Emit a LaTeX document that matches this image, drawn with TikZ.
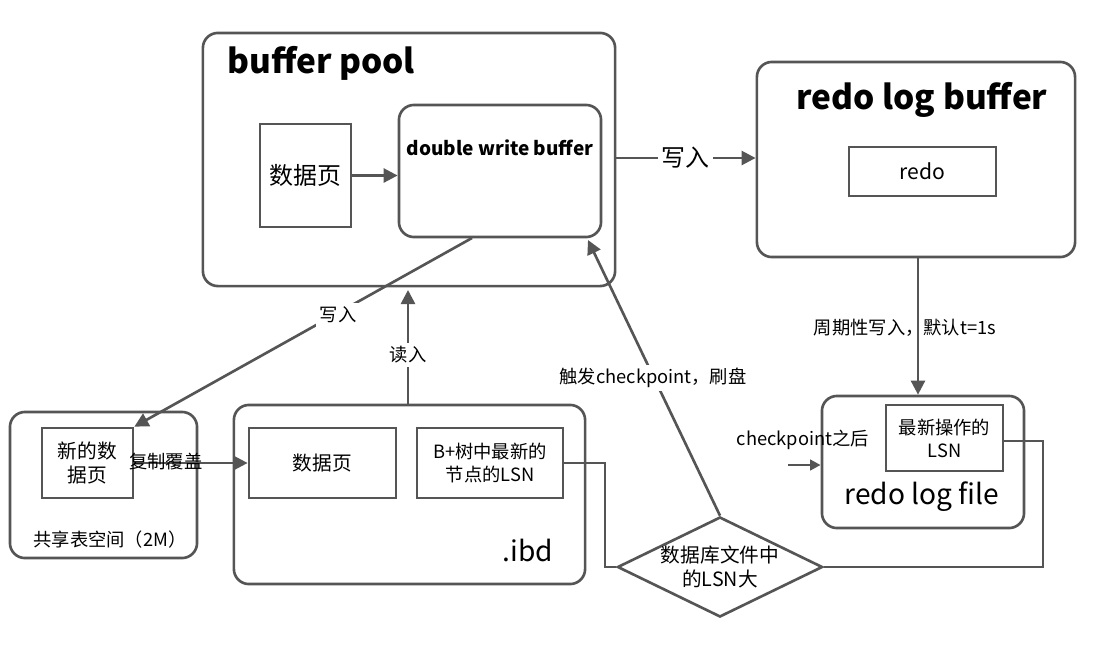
\documentclass[tikz,border=0pt]{standalone}
\usepackage{fontspec}
\setmainfont{Noto Sans CJK SC}
\usetikzlibrary{shapes.geometric,arrows.meta}
\definecolor{ink}{HTML}{555555}
\tikzset{
  box/.style={draw=ink,line width=0.75pt,rounded corners=1.5mm,inner sep=0pt},
  blk/.style={draw=ink,line width=0.75pt,inner sep=0pt},
  link/.style={draw=ink,line width=0.75pt,-{Triangle[length=4pt,width=4pt]}},
  wire/.style={draw=ink,line width=0.75pt},
  lbl/.style={font=\fontsize{5.2pt}{6.5pt}\selectfont,text=black,align=center,inner sep=1pt},
  big/.style={font=\fontsize{6.8pt}{8.5pt}\selectfont,text=black,align=center,inner sep=1pt},
  ttl/.style={font=\fontsize{9.5pt}{11pt}\selectfont\bfseries,text=black,inner sep=0pt}
}
\begin{document}
\begin{tikzpicture}[x=0.01cm,y=-0.01cm]

\useasboundingbox[fill=white] (0,0) rectangle (1096,654) ;

% buffer pool
\node[box,minimum width=4.12cm,minimum height=2.53cm] (pool) at (409,159.5) {} ;
\node[ttl] (pool_t) at (321,63) {buffer pool} ;
\node[blk,minimum width=0.91cm,minimum height=1.03cm,big] (page) at (305.5,175.5) {数据页} ;
\node[box,minimum width=2.02cm,minimum height=1.32cm] (dwb) at (500,171) {} ;
\node[lbl,font=\fontsize{5.4pt}{6.5pt}\selectfont\bfseries] (dwb_t) at (500,148) {double write buffer} ;

\draw[link] (page.east) -- (dwb.west |- page.east) ;

% redo log buffer
\node[box,minimum width=3.18cm,minimum height=1.95cm] (rbuf) at (916,159.5) {} ;
\node[ttl] (rbuf_t) at (922,100) {redo log buffer} ;
\node[blk,minimum width=1.47cm,minimum height=0.49cm,lbl,font=\fontsize{6pt}{7pt}\selectfont] (redo) at (922.5,171.5) {redo} ;

\coordinate (w_from) at (615,158) ;
\draw[link] (w_from) -- (w_from -| rbuf.west) node[midway,big,fill=white] (w_lbl) {写入} ;

% redo log file
\node[box,minimum width=2.02cm,minimum height=1.32cm] (rfile) at (923,462) {} ;
\node[blk,minimum width=1.17cm,minimum height=0.66cm,lbl,fill=white] (newlsn) at (944.5,438) {最新操作的\\LSN} ;
\node[font=\fontsize{8pt}{9pt}\selectfont,inner sep=0pt] (rfile_t) at (922,497) {redo log file} ;

\coordinate (rb_bot) at (918,257) ;
\draw[link] (rb_bot) -- (rb_bot |- rfile.north) ;
\node[lbl] (period) at (905,328) {周期性写入，默认t=1s} ;

\node[lbl] (ckafter) at (803,440) {checkpoint之后} ;
\coordinate (ck_in) at (788,465) ;
\draw[link,-{Triangle[length=3pt,width=3pt]}] (ck_in) -- (ck_in -| rfile.west) ;

% shared tablespace
\node[box,minimum width=1.87cm,minimum height=1.46cm] (share) at (103.5,485) {} ;
\node[blk,minimum width=0.91cm,minimum height=0.70cm,lbl,font=\fontsize{5.6pt}{7pt}\selectfont] (newpage) at (87.5,463) {新的数\\据页} ;
\node[lbl] (share_t) at (110,540) {共享表空间（2M）} ;

% ibd
\node[box,minimum width=3.51cm,minimum height=1.79cm] (ibd) at (409.5,494.5) {} ;
\node[blk,minimum width=1.47cm,minimum height=0.70cm,lbl,font=\fontsize{5.6pt}{7pt}\selectfont] (ipage) at (322.5,463) {数据页} ;
\node[blk,minimum width=1.46cm,minimum height=0.70cm,lbl] (blsn) at (490,463) {B+树中最新的\\节点的LSN} ;
\node[font=\fontsize{8pt}{9pt}\selectfont,inner sep=0pt] (ibd_t) at (528,550) {.ibd} ;

\draw[link] (newpage.east) -- (ipage.west) ;
\node[lbl] (copy) at (166,462) {复制覆盖} ;

\coordinate (rd_from) at (408,405) ;
\draw[link] (rd_from) -- (408,290) ;
\node[lbl,fill=white] (rd_lbl) at (408,355) {读入} ;

\coordinate (dw_out) at (472,238) ;
\draw[link] (dw_out) -- (newpage.north east) ;
\node[lbl,fill=white] (w2_lbl) at (338,315) {写入} ;

% compare
\node[diamond,draw=ink,line width=0.75pt,aspect=2,minimum width=2.05cm,minimum height=1cm,lbl,font=\fontsize{5.6pt}{7pt}\selectfont,inner sep=-2.5pt] (cmp) at (720,567) {数据库文件中\\的LSN大} ;

\draw[wire] (blsn.east) -- (605,463) -- (605,567) -- (cmp.west) ;
\draw[wire] (cmp.east) -- (1043,567) -- (1043,441) -- (newlsn.east |- 0,441) ;

\coordinate (dwb_in) at (588,240) ;
\draw[link] (cmp.north) -- (dwb_in) ;
\node[lbl,fill=white] (ck_lbl) at (653,378) {触发checkpoint，刷盘} ;

\end{tikzpicture}
\end{document}
